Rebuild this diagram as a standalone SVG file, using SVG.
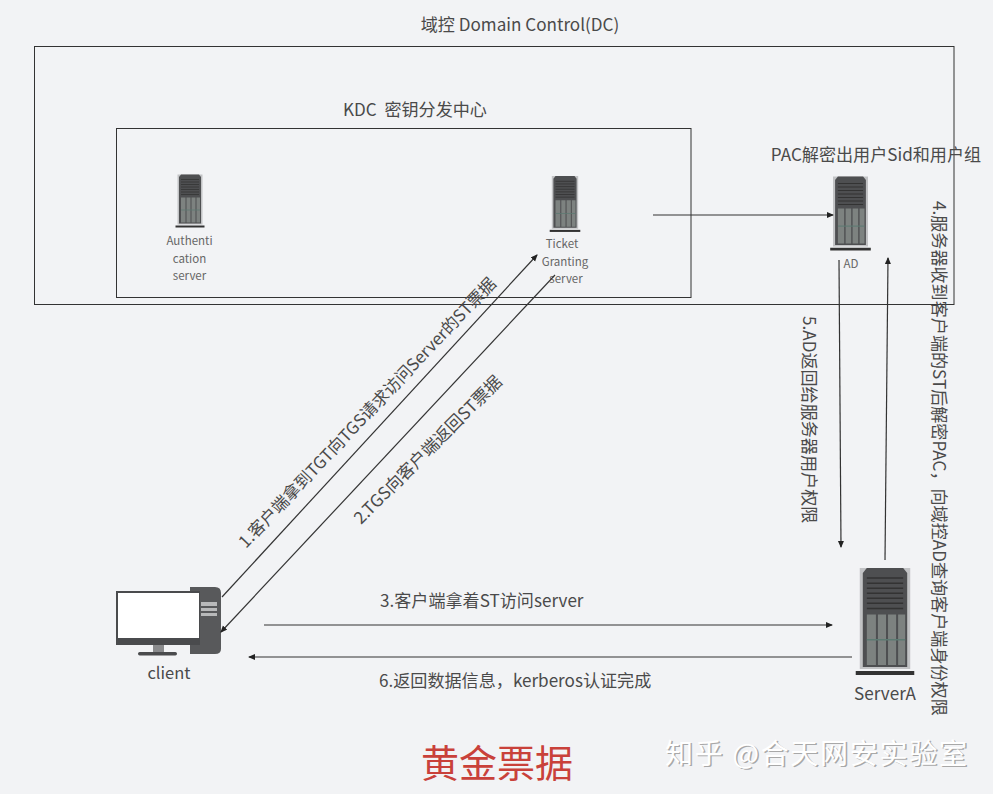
<svg xmlns="http://www.w3.org/2000/svg" xmlns:xlink="http://www.w3.org/1999/xlink" width="993" height="794" viewBox="0 0 993 794">
<style>
text{font-family:"Noto Sans CJK SC","Noto Sans",sans-serif;fill:#4a4a4a}
.box{fill:none;stroke:#333;stroke-width:1}
.c{stroke:#333;stroke-width:1.2;fill:none;marker-end:url(#a)}
.s{font-size:11.500px;text-anchor:middle;fill:#666}
.m{font-size:17.100px}
.wm{font-size:28px}
</style>
<defs>
<marker id="a" markerWidth="8" markerHeight="8" refX="6" refY="3" orient="auto" markerUnits="userSpaceOnUse"><path d="M0 0L7 3L0 6z" fill="#222"/></marker>
<symbol id="srv" viewBox="0 0 60 110">
<path d="M5 2H55V102H5z" fill="#c2c3c5"/>
<path d="M12 2H48L52 7V100H8V7z" fill="#4e4f51"/>
<path d="M12 12H48M12 17H48M12 22H48M12 27H48M12 32H48M12 37H48M12 42H48" stroke="#333" stroke-width="1.500"/>
<path d="M12 48H21V98H12zM23 48H31V98H23zM33 48H41V98H33zM43 48H50V98H43z" fill="#7d8280"/>
<path d="M12 73H50" stroke="#5c7a72" stroke-width="1.500"/>
<path d="M1 104H59V108H1z" fill="#333"/>
</symbol>
</defs>
<rect width="993" height="794" fill="#f2f3f5"/>
<g id="dc"><rect class="box" x="34.500" y="46.500" width="919.500" height="258"/><text class="m" x="520" y="31" text-anchor="middle">域控 Domain Control(DC)</text></g>
<g id="kdc"><rect class="box" x="116.500" y="128.500" width="574.500" height="169"/><text class="m" x="415" y="116" text-anchor="middle">KDC&#160;&#160;密钥分发中心</text></g>
<g id="auth"><use xlink:href="#srv" x="175" y="172" width="30" height="58"/><text class="s" x="189.500" y="245">Authenti</text><text class="s" x="189.500" y="263">cation</text><text class="s" x="189.500" y="280">server</text></g>
<g id="tgs"><use xlink:href="#srv" x="549" y="175" width="32" height="58"/><text class="s" x="562" y="248">Ticket</text><text class="s" x="565" y="266">Granting</text><text class="s" x="566" y="283">server</text></g>
<g id="ad"><use xlink:href="#srv" x="827" y="175" width="47" height="77"/><text class="s" x="851" y="268">AD</text><text class="m" x="876" y="161" text-anchor="middle">PAC解密出用户Sid和用户组</text></g>
<g id="client">
<path d="M190 587H215Q221 587 221 593V649Q221 654 215 654H190z" fill="#58595b"/>
<path d="M201 602H217V606H201zM201 608H217V611H201zM201 613H217V616H201z" fill="#b8b9ba"/>
<rect x="116" y="591" width="84" height="54" fill="#4a4b4d"/><rect x="118" y="593" width="81" height="45" fill="#fff"/>
<path d="M153 645H164V652H153z" fill="#8a8b8d"/><rect x="138" y="652" width="39" height="3.500" rx="1.700" fill="#4a4b4d"/>
<text x="169" y="679" font-size="16.500" text-anchor="middle">client</text></g>
<g id="serverA"><use xlink:href="#srv" x="851" y="566" width="68" height="111"/><text class="m" x="885" y="700" text-anchor="middle">ServerA</text></g>
<g id="connectors">
<path class="c" d="M653 215H833"/>
<path class="c" d="M839 260L841 547"/>
<path class="c" d="M885 560L888 258"/>
<path class="c" d="M264 625H832"/>
<path class="c" d="M852 657H249"/>
<path class="c" d="M222 597L537 255"/>
<path class="c" d="M555 275L221 632"/>
</g>
<g id="labels">
<text class="m" style="font-size:16.800px" transform="translate(246 549) rotate(-46.500)">1.客户端拿到TGT向TGS请求访问Server的ST票据</text>
<text class="m" transform="translate(361 525) rotate(-45)">2.TGS向客户端返回ST票据</text>
<text class="m" x="380" y="607">3.客户端拿着ST访问server</text>
<text class="m" transform="translate(933 201) rotate(90)">4.服务器收到客户端的ST后解密PAC，向域控AD查询客户端身份权限</text>
<text class="m" transform="translate(803 316) rotate(90)">5.AD返回给服务器用户权限</text>
<text class="m" x="379" y="687">6.返回数据信息，kerberos认证完成</text>
</g>
<text x="497" y="777" font-size="38" text-anchor="middle" style="fill:#c9413a">黄金票据</text>
<text class="wm" x="666.500" y="765" textLength="302" style="fill:#a8a8a8">知乎 @合天网安实验室</text>
<text class="wm" x="665" y="763.500" textLength="302" style="fill:#fff">知乎 @合天网安实验室</text>
</svg>
